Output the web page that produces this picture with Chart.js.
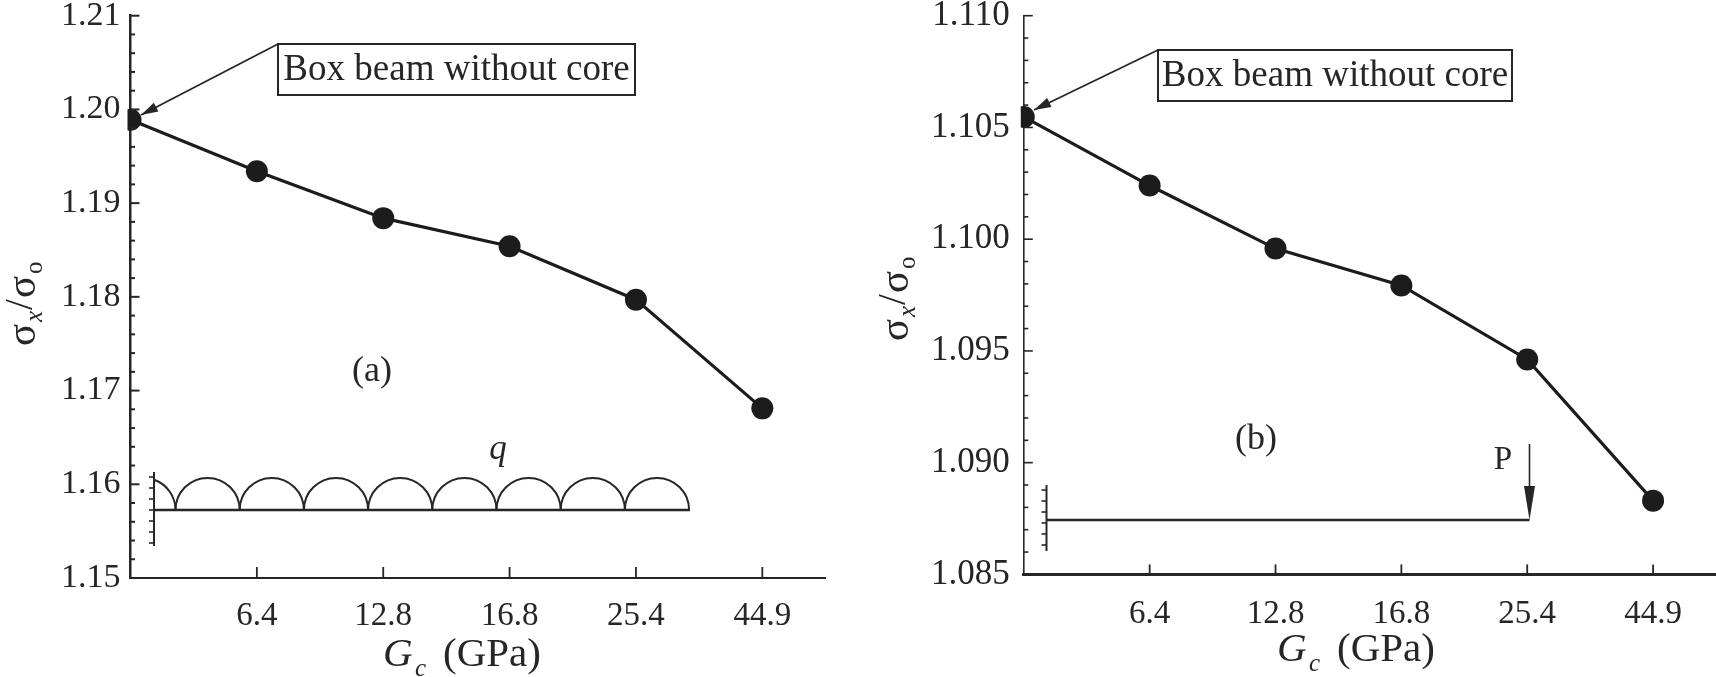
<!DOCTYPE html>
<html>
<head>
<meta charset="utf-8">
<style>
  html, body { margin: 0; padding: 0; background: #fff; overflow: hidden; }
  canvas { position: absolute; top: 0; }
  #chart-a { left: 0; }
  #chart-b { left: 860px; }
</style>
<script src="https://cdn.jsdelivr.net/npm/chart.js@4"></script>
</head>
<body>
<canvas id="chart-a" width="860" height="677"></canvas>
<canvas id="chart-b" width="876" height="677"></canvas>
<script>
const x_labels = ["", "6.4", "12.8", "16.8", "25.4", "44.9"];
const stress_a = [1.1989, 1.1934, 1.1884, 1.1854, 1.1797, 1.1681];
const stress_b = [1.10547, 1.1024, 1.09958, 1.09793, 1.09462, 1.0883];
const y_labels_a = ["1.15", "1.16", "1.17", "1.18", "1.19", "1.20", "1.21"];
const y_labels_b = ["1.085", "1.090", "1.095", "1.100", "1.105", "1.110"];

const SERIF = '"Liberation Serif", serif';
const INK = "#262626";

function text(ctx, str, x, y, font, align) {
  ctx.font = font;
  ctx.textAlign = align || "center";
  ctx.textBaseline = "middle";
  ctx.fillStyle = INK;
  ctx.fillText(str, x, y);
}

function line(ctx, x1, y1, x2, y2, width) {
  ctx.strokeStyle = INK;
  ctx.lineWidth = width;
  ctx.beginPath();
  ctx.moveTo(x1, y1);
  ctx.lineTo(x2, y2);
  ctx.stroke();
}

// Arrow head as a filled triangle pointing at (x, y)
function arrow_head(ctx, x, y, from_x, from_y, len, half) {
  const a = Math.atan2(y - from_y, x - from_x);
  ctx.fillStyle = INK;
  ctx.beginPath();
  ctx.moveTo(x, y);
  ctx.lineTo(x - len * Math.cos(a) + half * Math.sin(a), y - len * Math.sin(a) - half * Math.cos(a));
  ctx.lineTo(x - len * Math.cos(a) - half * Math.sin(a), y - len * Math.sin(a) + half * Math.cos(a));
  ctx.closePath();
  ctx.fill();
}

function note_box(ctx, left, top, right, bottom, tip_x, tip_y) {
  ctx.strokeStyle = INK;
  ctx.lineWidth = 2;
  ctx.strokeRect(left, top, right - left, bottom - top);
  text(ctx, "Box beam without core", (left + right) / 2, (top + bottom) / 2 + 1, "37px " + SERIF);
  line(ctx, left, top, tip_x, tip_y, 1.8);
  arrow_head(ctx, tip_x, tip_y, left, top, 17, 5);
}

function wall(ctx, x, top, bottom) {
  line(ctx, x, top, x, bottom, 2);
  for (let y = top + 5; y < bottom; y += 11) {
    line(ctx, x - 5, y, x, y, 1.6);
  }
}

// Axis title G_c (GPa), placed around its centre
function x_title(ctx, cx, cy) {
  text(ctx, "G", cx - 77, cy, "italic 41px " + SERIF, "left");
  text(ctx, "c", cx - 45, cy + 14, "italic 25px " + SERIF, "left");
  text(ctx, "(GPa)", cx - 17, cy, "41px " + SERIF, "left");
}

// Rotated axis title, sigma_x / sigma_o
function y_title(ctx, cx, cy) {
  ctx.save();
  ctx.translate(cx, cy);
  ctx.rotate(-Math.PI / 2);
  text(ctx, "σ", -54, 0, "41px " + SERIF, "left");
  text(ctx, "x", -30, 11, "italic 25px " + SERIF, "left");
  text(ctx, "/", -18, -2, "39px " + SERIF, "left");
  text(ctx, "σ", -6, 0, "41px " + SERIF, "left");
  text(ctx, "o", 18, 11, "25px " + SERIF, "left");
  ctx.restore();
}

// Ticks point inward here and minor ones are shorter, which grid options can't do
function inner_ticks(major_len, minor_len, x_len, y_width) {
  return {
    id: "innerTicks",
    afterDraw(chart) {
      const ctx = chart.ctx;
      const sy = chart.scales.y;
      const sx = chart.scales.x;
      sy.ticks.forEach((t, i) => {
        const py = sy.getPixelForValue(t.value);
        line(ctx, sx.left, py, sx.left + (i % 5 == 0 ? major_len : minor_len), py, y_width);
      });
      sx.ticks.forEach(t => {
        if (t.label) {
          const px = sx.getPixelForValue(t.value);
          line(ctx, px, sy.bottom, px, sy.bottom - x_len, 1.8);
        }
      });
    }
  };
}

function make_chart(canvas, values, y_labels, y_min, y_max, y_step, box, plugins) {
  return new Chart(canvas, {
    type: "line",
    data: {
      datasets: [{
        data: values.map((v, i) => ({ x: i, y: v })),
        borderColor: "#1c1c1c",
        backgroundColor: "#1c1c1c",
        borderWidth: 3.2,
        pointRadius: 11,
        pointBorderWidth: 0,
        tension: 0,
        clip: { left: 3, top: false, right: false, bottom: false }
      }]
    },
    options: {
      responsive: false,
      animation: false,
      events: [],
      layout: { padding: { top: box.top, right: box.right, left: 0, bottom: 0 } },
      plugins: { legend: { display: false }, tooltip: { enabled: false }, title: { display: false } },
      scales: {
        x: {
          type: "linear",
          min: 0,
          max: 5.5,
          afterFit: s => { s.height = box.x_height; s.paddingLeft = 0; s.paddingRight = 0; },
          grid: { display: false, drawTicks: false },
          border: { color: INK, width: box.x_border },
          ticks: {
            stepSize: 1,
            includeBounds: false,
            autoSkip: false,
            maxRotation: 0,
            padding: box.x_pad,
            color: INK,
            font: { family: SERIF, size: 33 },
            callback: v => x_labels[v] || ""
          }
        },
        y: {
          min: y_min,
          max: y_max,
          afterFit: s => { s.width = box.y_width; s.paddingTop = 0; s.paddingBottom = 0; },
          grid: { display: false, drawTicks: false },
          border: { color: INK, width: box.y_border },
          ticks: {
            stepSize: y_step,
            autoSkip: false,
            padding: box.y_pad,
            color: INK,
            font: { family: SERIF, size: box.y_font },
            callback: (v, i) => (i % 5 == 0 ? y_labels[i / 5] : "")
          }
        }
      }
    },
    plugins: plugins
  });
}

const notes_a = {
  id: "notesA",
  afterDraw(chart) {
    const ctx = chart.ctx;
    note_box(ctx, 278, 44, 635, 95, 141, 115);
    text(ctx, "(a)", 372, 372, "36px " + SERIF);
    text(ctx, "q", 498, 450, "italic 35px " + SERIF);
    wall(ctx, 154, 472, 546);
    line(ctx, 154, 510, 690, 510, 2.4);
    ctx.strokeStyle = INK;
    ctx.lineWidth = 2;
    ctx.beginPath();
    ctx.arc(143.4, 510, 32.1, -1.23, 0);
    ctx.stroke();
    for (let i = 0; i < 8; i++) {
      ctx.beginPath();
      ctx.arc(175.5 + 32.1 + i * 64.2, 510, 32.1, Math.PI, 0);
      ctx.stroke();
    }
    x_title(ctx, 460, 655);
    y_title(ctx, 24, 292);
  }
};

// Canvas b starts at 860, so its notes are 860 left of the page position
const notes_b = {
  id: "notesB",
  afterDraw(chart) {
    const ctx = chart.ctx;
    note_box(ctx, 298, 50, 652, 101, 174, 110);
    text(ctx, "(b)", 396, 440, "36px " + SERIF);
    text(ctx, "P", 643, 460, "33px " + SERIF);
    wall(ctx, 186.5, 485, 551);
    line(ctx, 186.5, 520, 669.5, 520, 2.4);
    line(ctx, 669.5, 444, 669.5, 500, 1.6);
    arrow_head(ctx, 669.5, 520, 669.5, 444, 34, 5.5);
    x_title(ctx, 494, 650);
    y_title(ctx, 37, 287);
  }
};

make_chart(document.getElementById("chart-a"), stress_a, y_labels_a, 1.15, 1.21, 0.002,
  { top: 15.7, right: 34.5, x_height: 99, y_width: 130.5, x_pad: 19, y_pad: 10, x_border: 2, y_border: 2.5, y_font: 34 },
  [inner_ticks(9, 4.5, 11, 2), notes_a]);

// Canvas b runs past the window so the right padding can outweigh the label overhang
make_chart(document.getElementById("chart-b"), stress_b, y_labels_b, 1.085, 1.11, 0.001,
  { top: 15.7, right: 20, x_height: 102.6, y_width: 163.8, x_pad: 20, y_pad: 14, x_border: 3, y_border: 1.6, y_font: 35 },
  [inner_ticks(9, 4.5, 10, 1.6), notes_b]);
</script>
</body>
</html>
